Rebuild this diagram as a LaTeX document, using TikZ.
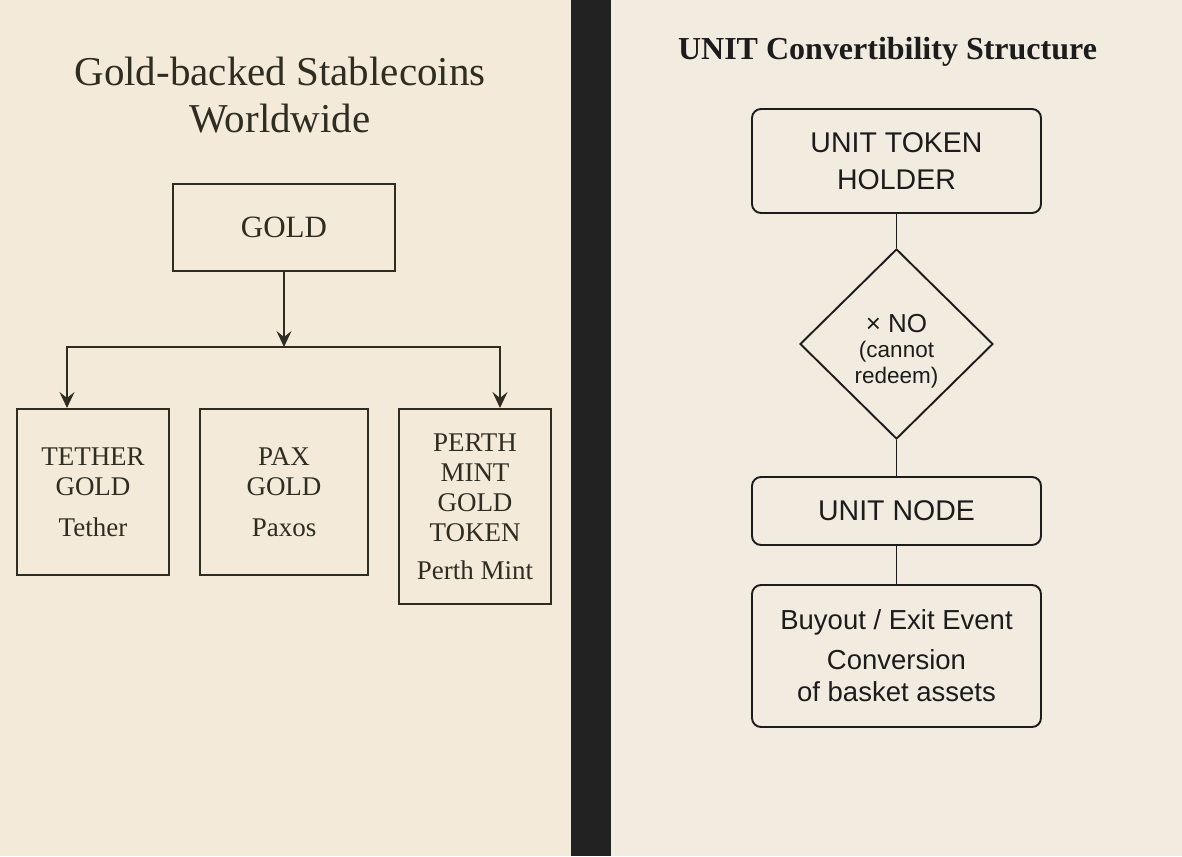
\documentclass[tikz,border=0pt]{standalone}
\usepackage{fontspec}
\setmainfont{Liberation Serif}
\newfontfamily\plexsans{Liberation Sans}
\usetikzlibrary{shapes.geometric,arrows.meta}
\definecolor{bgL}{HTML}{F3EAD9}
\definecolor{bgR}{HTML}{F2EBE0}
\definecolor{barc}{HTML}{222222}
\definecolor{inkL}{HTML}{2F2C22}
\definecolor{inkR}{HTML}{1C1C1C}
\begin{document}
\begin{tikzpicture}[x=1pt,y=-1pt,
 lbox/.style={draw=inkL, line width=2pt, rectangle, inner sep=0pt, align=center, text=inkL, font=\fontsize{27}{30}\selectfont},
 rbox/.style={draw=inkR, line width=1.9pt, rounded corners=9pt, minimum width=289pt, inner sep=0pt, align=center, text=inkR, font=\plexsans\fontsize{28.5}{37}\selectfont},
 lline/.style={draw=inkL, line width=2pt},
 rline/.style={draw=inkR, line width=1.9pt},
 larrow/.style={lline, -{Stealth[length=16pt,width=15pt,inset=6pt]}}]
\fill[bgL] (0,0) rectangle (571,856);
\fill[barc] (571,0) rectangle (611,856);
\fill[bgR] (611,0) rectangle (1182,856);
\useasboundingbox (0,0) rectangle (1182,856);

% left panel
\node[anchor=north, inner sep=0pt, align=center, text=inkL, font=\fontsize{41}{47}\selectfont] (ltitle) at (280,57) {Gold-backed Stablecoins\\Worldwide};
\node[lbox, minimum width=222pt, minimum height=87pt, font=\fontsize{31}{36}\selectfont] (gold) at (284,227.5) {GOLD};
\node[lbox, minimum width=152pt, minimum height=166pt] (tether) at (93,492) {TETHER\\GOLD\\[11pt]Tether};
\node[lbox, minimum width=168pt, minimum height=166pt] (pax) at (284,492) {PAX\\GOLD\\[11pt]Paxos};
\node[lbox, minimum width=152pt, minimum height=195pt] (perth) at (475,506.5) {PERTH\\MINT\\GOLD\\TOKEN\\[8pt]Perth Mint};
\coordinate (jc) at (284,347);
\coordinate (jl) at (67,347);
\coordinate (jr) at (500,347);
\draw[larrow] (gold.south) -- (jc);
\draw[larrow] (jc) -| (jl |- tether.north);
\draw[larrow] (jc) -| (jr |- perth.north);

% right panel
\node[anchor=base, inner sep=0pt, text=inkR, font=\bfseries\fontsize{32}{38}\selectfont] (rtitle) at (887.5,60) {UNIT Convertibility Structure};
\node[rbox, minimum height=104pt] (holder) at (896.5,161) {UNIT TOKEN\\HOLDER};
\node[diamond, draw=inkR, line width=1.9pt, minimum width=193pt, minimum height=190pt, inner sep=0pt] (dia) at (896.5,344) {};
\node[align=center, text=inkR, inner sep=0pt, font=\plexsans\fontsize{22.5}{25.5}\selectfont] (diatext) at (896.5,351) {{\fontsize{26}{26}\selectfont × NO}\\(cannot\\redeem)};
\node[rbox, minimum height=68pt] (unitnode) at (896.5,511) {UNIT NODE};
\node[rbox, minimum height=142pt, font=\plexsans\fontsize{27.5}{32}\selectfont] (exit) at (896.5,656) {Buyout / Exit Event\\[8pt]Conversion\\of basket assets};
\draw[rline] (holder.south) -- (dia.north);
\draw[rline] (dia.south) -- (unitnode.north);
\draw[rline] (unitnode.south) -- (exit.north);
\end{tikzpicture}
\end{document}
